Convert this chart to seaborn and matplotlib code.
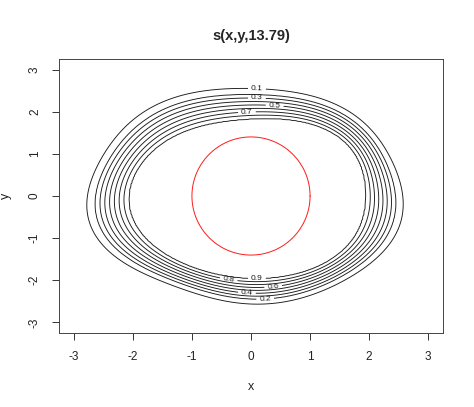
import numpy as np
import matplotlib
matplotlib.use("Agg")
import matplotlib.pyplot as plt
import seaborn as sns

# ---- data ----
title = "s(x,y,13.79)"
levels = [0.1, 0.2, 0.3, 0.4, 0.5, 0.6, 0.7, 0.8, 0.9]
# relative position of each level between outer (0.1) and inner (0.9) contour
level_frac = [0.0, 0.2, 0.314, 0.429, 0.543, 0.657, 0.771, 0.886, 1.0]

outer_x = [-0.02, -1.20, -1.76, -2.15, -2.43, -2.66, -2.78, -2.71, -2.43, -1.98,
           -1.42, -0.75, -0.07, 0.26, 0.83, 1.39, 1.89, 2.29, 2.51, 2.58,
           2.51, 2.29, 1.95, 1.45, 0.83, 0.15]
outer_y = [2.55, 2.36, 2.05, 1.65, 1.10, 0.46, -0.17, -0.81, -1.29, -1.68,
           -2.08, -2.40, -2.58, -2.54, -2.40, -2.16, -1.76, -1.21, -0.65, -0.17,
           0.46, 1.10, 1.65, 2.17, 2.45, 2.54]
inner_x = [-0.07, -0.75, -1.25, -1.65, -1.93, -2.05, -2.04, -1.87, -1.53, -1.08,
           -0.52, -0.07, 0.21, 0.66, 1.11, 1.50, 1.78, 1.92, 1.94, 1.87,
           1.67, 1.33, 0.83]
inner_y = [1.83, 1.69, 1.45, 1.10, 0.62, 0.06, -0.41, -0.89, -1.29, -1.64,
           -1.88, -1.96, -1.96, -1.88, -1.68, -1.37, -0.89, -0.41, 0.14, 0.70,
           1.17, 1.53, 1.77]

label_levels = [0.1, 0.3, 0.5, 0.7, 0.8, 0.9, 0.6, 0.4, 0.2]
label_x = [0.10, 0.10, 0.40, -0.07, -0.38, 0.10, 0.38, -0.07, 0.24]
label_y = [2.52, 2.30, 2.13, 2.01, -2.00, -1.98, -2.21, -2.32, -2.44]

circle_center = (0.0, 0.0)
circle_radius = 1.0  # in x units, drawn as a true circle on screen

xticks = [-3, -2, -1, 0, 1, 2, 3]
yticks = [-3, -2, -1, 0, 1, 2, 3]
lim = 3.25

# ---- figure ----
sns.set_style("white")
plt.rcParams['font.family'] = ['Liberation Sans', 'DejaVu Sans']

fig = plt.figure(figsize=(4.74, 4.07), dpi=100)
ax = fig.add_axes([59 / 474, 1 - 333 / 407, (443 - 59) / 474, (333 - 59) / 407])


def polar_smooth(xs, ys, nharm=5):
    """Smooth periodic fit r(theta) through the traced contour points."""
    xs = np.asarray(xs); ys = np.asarray(ys)
    th = np.arctan2(ys, xs)
    r = np.hypot(xs, ys)
    cols = [np.ones_like(th)]
    for k in range(1, nharm + 1):
        cols += [np.cos(k * th), np.sin(k * th)]
    A = np.stack(cols, axis=1)
    coef, *_ = np.linalg.lstsq(A, r, rcond=None)

    def f(t):
        out = coef[0] * np.ones_like(t)
        for k in range(1, nharm + 1):
            out = out + coef[2 * k - 1] * np.cos(k * t) + coef[2 * k] * np.sin(k * t)
        return out
    return f


r_outer = polar_smooth(outer_x, outer_y)
r_inner = polar_smooth(inner_x, inner_y)

g = np.linspace(-lim, lim, 321)
X, Y = np.meshgrid(g, g)
TH = np.arctan2(Y, X)
R = np.hypot(X, Y)
RO = r_outer(TH)
RI = r_inner(TH)
T = (RO - R) / (RO - RI)
fr_ext = [-10.0] + level_frac + [10.0]
lv_ext = [0.1 - 10 * 0.5] + levels + [0.9 + 9 * 0.12]
Z = np.interp(T, fr_ext, lv_ext)

ax.set_xlim(-lim, lim)
ax.set_ylim(-lim, lim)

label_pos = {lev: (lx, ly) for lev, lx, ly in zip(label_levels, label_x, label_y)}
for lev in levels:
    cs = ax.contour(X, Y, Z, levels=[lev], colors="#1a1a1a", linewidths=0.65)
    if lev in label_pos:
        ax.clabel(cs, inline=True, fontsize=6, fmt="%.1f",
                  manual=[label_pos[lev]], inline_spacing=3)

# circle: radius in x units, true circle on screen
bb = ax.get_window_extent()
ratio = (bb.width / (2 * lim)) / (bb.height / (2 * lim))
t = np.linspace(0, 2 * np.pi, 200)
cx = circle_center[0] + circle_radius * np.cos(t)
cy = circle_center[1] + circle_radius * ratio * np.sin(t)
sns.lineplot(x=cx, y=cy, sort=False, color="#ff1a1a", linewidth=0.7, ax=ax,
             estimator=None)
ax.set_xlim(-lim, lim)
ax.set_ylim(-lim, lim)

ax.set_xticks(xticks)
ax.set_yticks(yticks)
ax.set_xticklabels([str(v) for v in xticks])
ax.set_yticklabels([str(v) for v in yticks])
ax.tick_params(direction="out", length=5, width=0.7, colors="#333333",
               labelsize=8.5, pad=8, labelcolor="#222222")
ax.tick_params(bottom=True, left=True)
for lab in ax.get_yticklabels():
    lab.set_rotation(90)
    lab.set_va("center")
for s in ax.spines.values():
    s.set_color("#444444")
    s.set_linewidth(0.7)

ax.set_xlabel("x", fontsize=9, color="#222222", labelpad=13)
ax.set_ylabel("y", fontsize=9, color="#222222", labelpad=12)
ax.set_title(title, fontsize=10.5, fontweight="bold", pad=14)

fig.savefig("out.png", dpi=100)
